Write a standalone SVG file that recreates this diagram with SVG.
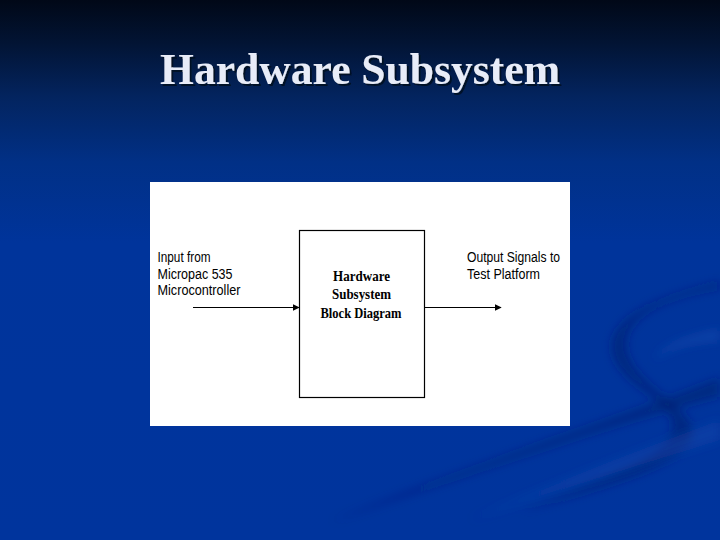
<svg xmlns="http://www.w3.org/2000/svg" width="720" height="540" viewBox="0 0 720 540">
<defs>
<linearGradient id="bg" x1="0" y1="0" x2="0" y2="1">
<stop offset="0" stop-color="#010817"/>
<stop offset="0.08" stop-color="#021434"/>
<stop offset="0.18" stop-color="#03245f"/>
<stop offset="0.3" stop-color="#013086"/>
<stop offset="0.45" stop-color="#00349b"/>
<stop offset="1" stop-color="#00349d"/>
</linearGradient>
<marker id="arr" viewBox="0 0 10 10" refX="9" refY="5" markerWidth="7" markerHeight="7" markerUnits="userSpaceOnUse" orient="auto">
<path d="M0,0 L10,5 L0,10 z" fill="#000"/>
</marker>
<filter id="blur" x="-20%" y="-20%" width="140%" height="140%"><feGaussianBlur stdDeviation="5"/></filter>
<filter id="shadow" x="-5%" y="-20%" width="110%" height="140%">
<feDropShadow dx="2" dy="2" stdDeviation="0.6" flood-color="#050c24" flood-opacity="0.85"/>
</filter>
</defs>
<style>
.title{font-family:"Liberation Serif","Times New Roman",serif;font-weight:bold;font-size:45px}
.lbl{font-family:"Liberation Sans",Arial,sans-serif;font-size:14px;fill:#000}
.box{font-family:"Liberation Serif","Times New Roman",serif;font-size:15px;font-weight:bold;fill:#000}
.conn{stroke:#000;stroke-width:1.2;fill:none}
</style>
<rect x="0" y="0" width="720" height="540" fill="url(#bg)"/>
<g id="swooshes" filter="url(#blur)">
<path d="M720,288 C660,298 612,322 630,360 C648,395 700,410 692,440 C675,470 590,490 520,512 C600,478 660,462 672,432 C682,400 610,385 612,345 C615,310 680,292 720,282 z" fill="#002270" opacity="0.6"/>
<path d="M720,378 C620,418 480,462 330,522 C470,474 610,424 720,396 z" fill="#00226c" opacity="0.55"/>
<path d="M720,420 C640,450 560,480 470,520 C570,486 650,462 720,440 z" fill="#1a4cb0" opacity="0.4"/>
<path d="M720,330 C690,335 660,345 655,360 C665,350 690,342 720,340 z" fill="#2458bc" opacity="0.4"/>
</g>
<g id="title">
<text class="title" x="160" y="84" fill="#e8ecf8" filter="url(#shadow)" textLength="400" lengthAdjust="spacingAndGlyphs">Hardware Subsystem</text>
</g>
<rect id="panel" x="150" y="182" width="420" height="244" fill="#ffffff"/>
<g id="input-label">
<text class="lbl" x="157.5" y="262.3" textLength="53" lengthAdjust="spacingAndGlyphs">Input from</text>
<text class="lbl" x="157.5" y="278.8" textLength="75" lengthAdjust="spacingAndGlyphs">Micropac 535</text>
<text class="lbl" x="157.5" y="295" textLength="83" lengthAdjust="spacingAndGlyphs">Microcontroller</text>
</g>
<g id="hardware-block">
<rect x="299.5" y="230.5" width="125" height="167" fill="#fff" stroke="#000" stroke-width="1.2"/>
<text class="box" x="361.5" y="281" text-anchor="middle" textLength="57" lengthAdjust="spacingAndGlyphs">Hardware</text>
<text class="box" x="361.5" y="299" text-anchor="middle" textLength="59" lengthAdjust="spacingAndGlyphs">Subsystem</text>
<text class="box" x="361" y="317.5" text-anchor="middle" textLength="81" lengthAdjust="spacingAndGlyphs">Block Diagram</text>
</g>
<g id="output-label">
<text class="lbl" x="467" y="262.3" textLength="93" lengthAdjust="spacingAndGlyphs">Output Signals to</text>
<text class="lbl" x="467" y="278.5" textLength="73" lengthAdjust="spacingAndGlyphs">Test Platform</text>
</g>
<g id="connectors">
<line class="conn" x1="193" y1="307.5" x2="299" y2="307.5" marker-end="url(#arr)"/>
<line class="conn" x1="425" y1="307.5" x2="501" y2="307.5" marker-end="url(#arr)"/>
</g>
</svg>
